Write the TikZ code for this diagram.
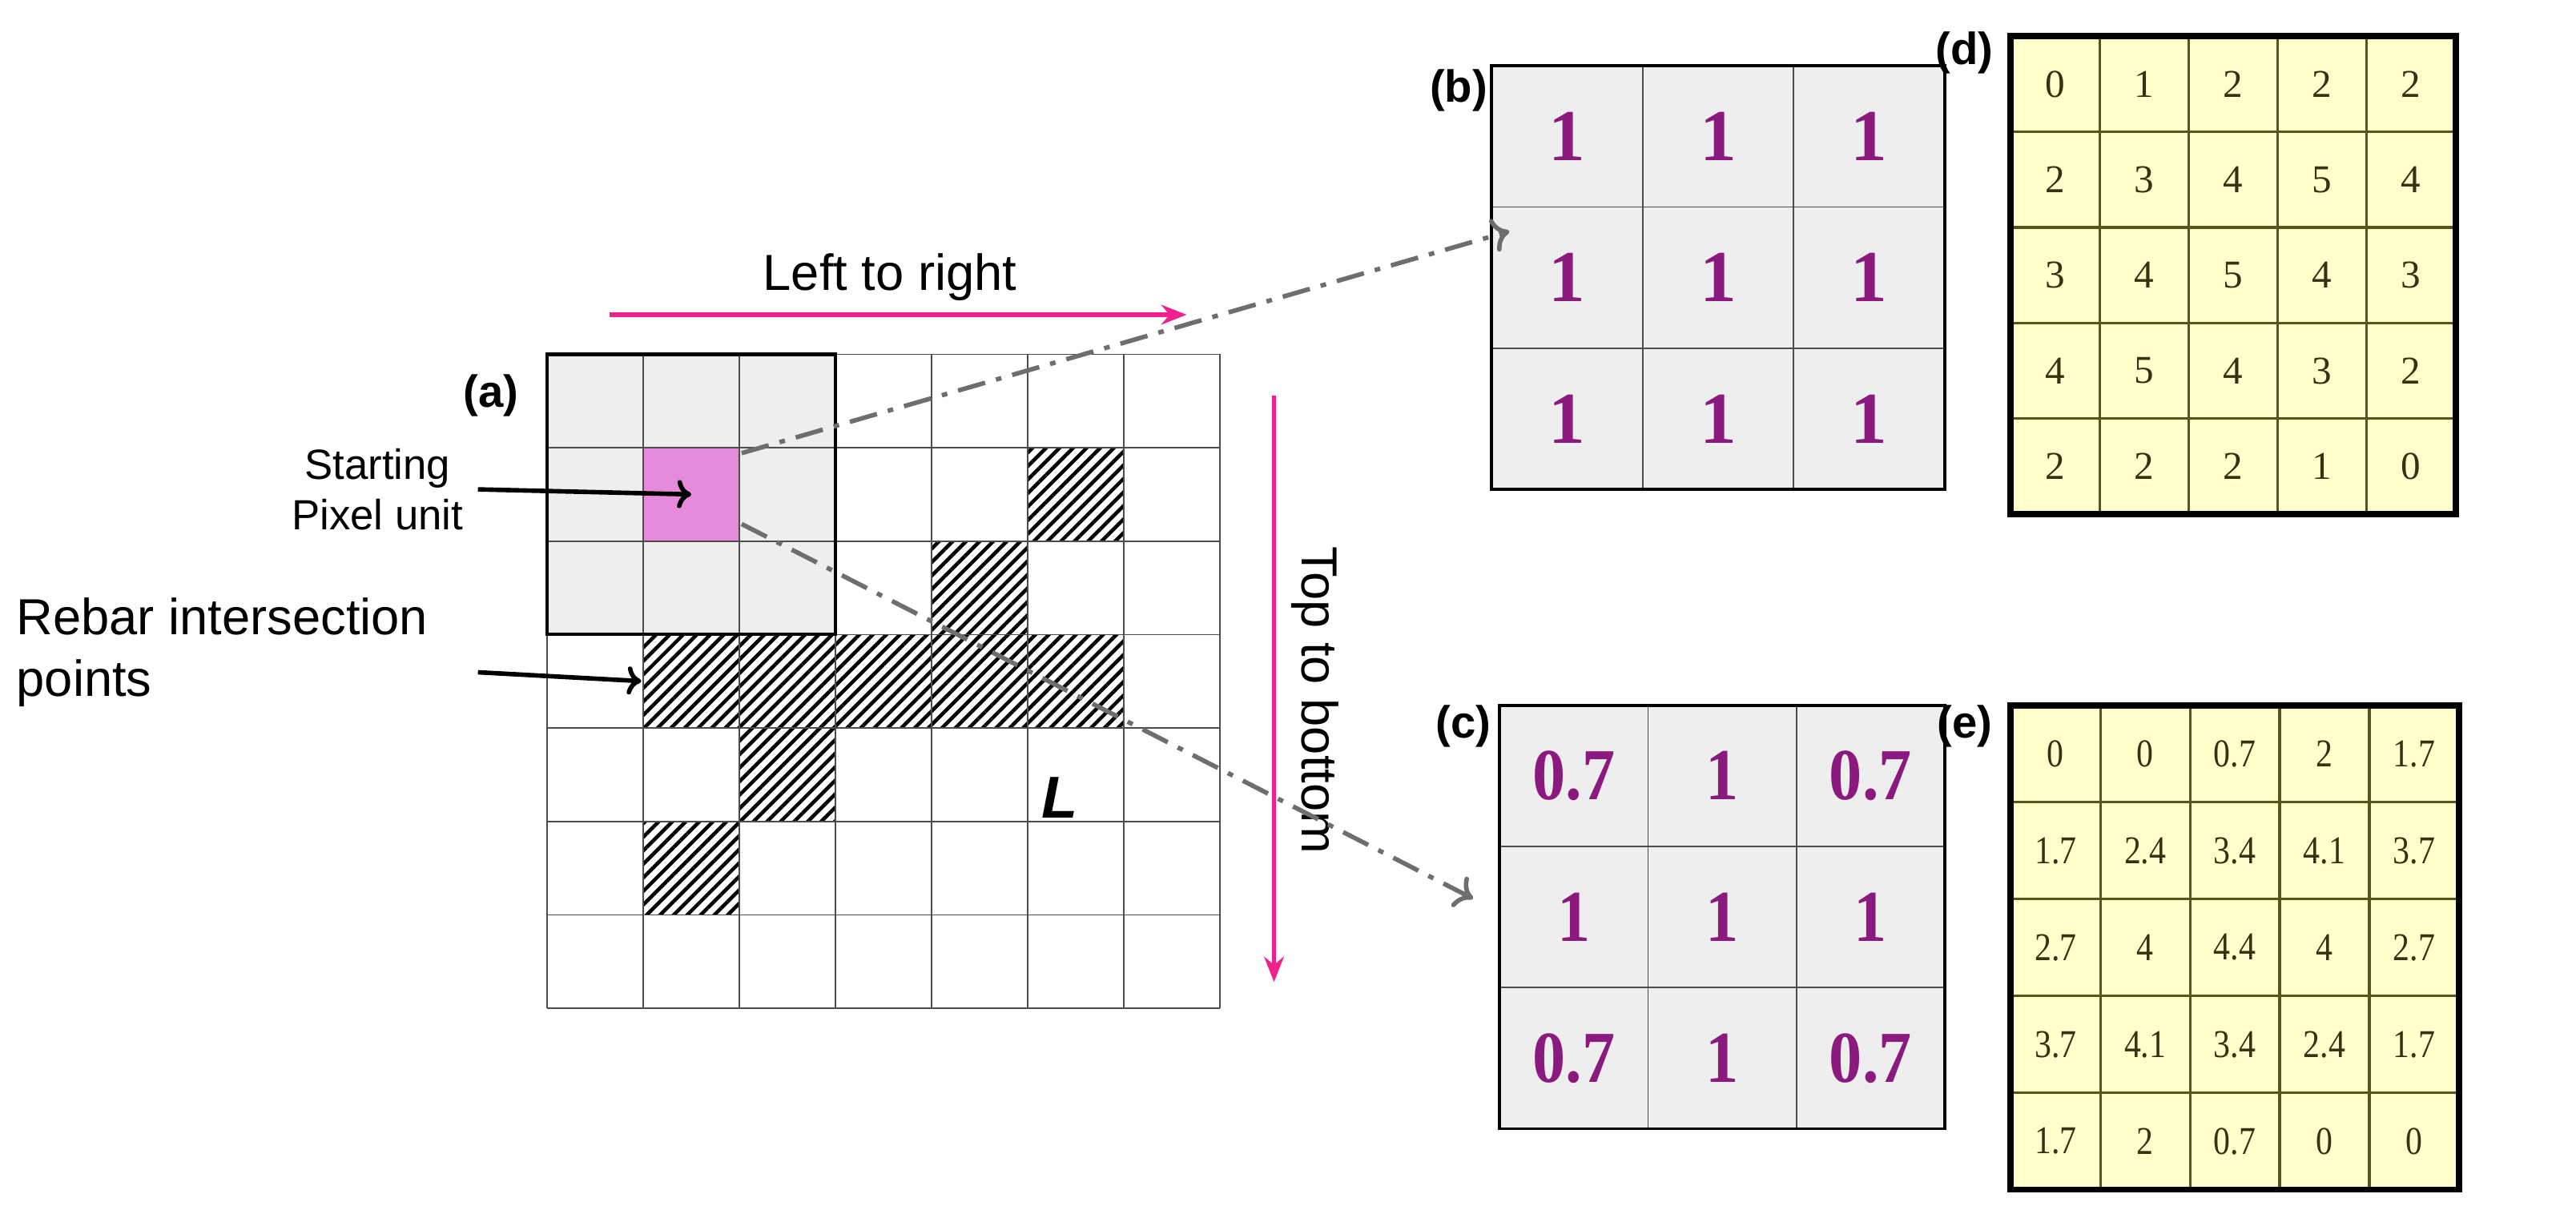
\documentclass[tikz,border=0pt]{standalone}
\usepackage{fontspec}
\setmainfont{Liberation Sans}
\newfontfamily\tnr{Liberation Serif}
\usetikzlibrary{patterns.meta,arrows.meta}
\definecolor{gfill}{HTML}{EEEEEE}
\definecolor{pinkc}{HTML}{E68ADB}
\definecolor{purp}{HTML}{8B1A7E}
\definecolor{yel}{HTML}{FFFFCC}
\definecolor{oliv}{HTML}{55551E}
\definecolor{mag}{HTML}{F0208C}
\definecolor{dgray}{HTML}{6E6E6E}
\tikzset{
  lbl/.style={font=\fontsize{16}{18}\selectfont\bfseries},
  txt/.style={font=\fontsize{15}{18}\selectfont, align=center},
  txtb/.style={font=\fontsize{18}{22}\selectfont, align=left},
  big/.style={font=\tnr\fontsize{26}{28}\selectfont\bfseries, text=purp},
  sm/.style={font=\tnr\fontsize{14}{16}\selectfont, text=oliv!60!black},
  hatch/.style={pattern={Lines[angle=45,distance=3.4pt,line width=1.3pt]}},
  thinl/.style={draw=black!70, line width=0.5pt},
  blkarr/.style={-{To[length=5pt,width=10pt,line width=1.6pt]}, line width=1.6pt},
  dda/.style={dgray, line width=1.6pt, dash pattern=on 10pt off 4pt on 2pt off 4pt, -{To[length=6pt,width=12pt]}},
  marr/.style={mag, line width=1.6pt, -{Stealth[length=9pt,width=7pt]}},
}
\begin{document}
\begin{tikzpicture}[x=0.020576cm,y=-0.020576cm]
\useasboundingbox (0,0) rectangle (1563,734);
\def\cw{58.3}\def\ch{56.7}
% grid (a)
\fill[gfill] (332,215) rectangle (506.9,385.1);
\foreach \c/\r in {5/1,4/2,1/3,2/3,3/3,4/3,5/3,2/4,1/5}
  \fill[hatch] ({332+\cw*\c},{215+\ch*\r}) rectangle +(\cw,\ch);
\fill[pinkc] ({332+\cw},{215+\ch}) rectangle +(\cw,\ch);
\foreach \i in {0,...,7} \draw[thinl] ({332+\cw*\i},215) -- ({332+\cw*\i},{215+7*\ch});
\foreach \j in {0,...,7} \draw[thinl] (332,{215+\ch*\j}) -- ({332+7*\cw},{215+\ch*\j});
\draw[line width=1.2pt] (332,215) rectangle (506.9,385.1);
\node[inner sep=0,minimum size=0pt] (pink) at ({332+1.5*\cw},{215+1.5*\ch}) {};
\node[inner sep=0] (hatchstart) at ({332+\cw},{215+3.5*\ch}) {};
\node[font=\fontsize{21}{21}\selectfont\bfseries\itshape] (L) at (643,484) {L};
\node[lbl] (la) at (298,240) {(a)};
\coordinate (pinkR1) at (450,275);
\coordinate (pinkR2) at (450,318);
% labels left
\node[txt] (start) at (229,297) {Starting\\Pixel unit};
\node[txtb, anchor=west] (rebar) at (4,396) {Rebar intersection\\points};
\draw[blkarr] (290,297) -- (pink.center);
\draw[blkarr] (290,408) -- (hatchstart);
% direction arrows
\node[txtb] (ltr) at (540,168) {Left to right};
\coordinate (m1) at (370,191); \coordinate (m2) at (720,191);
\draw[marr] (m1) -- (m2);
\node[txtb, rotate=-90] (ttb) at (798,425) {Top to bottom};
\coordinate (m3) at (773,240); \coordinate (m4) at (773,596);
\draw[marr] (m3) -- (m4);
% (b)
\node[lbl] (lb) at (885,55) {(b)};
\fill[gfill] (905,40) rectangle (1180,297);
\foreach \i in {1,2} {
  \draw[thinl] ({905+\i*91.67},40) -- ({905+\i*91.67},297);
  \draw[thinl] (905,{40+\i*85.67}) -- (1180,{40+\i*85.67});}
\draw[line width=1.1pt] (905,40) rectangle (1180,297);
\foreach \i in {0,1,2} \foreach \j in {0,1,2}
  \node[big] (b\i\j) at ({905+91.67*(\i+0.5)},{40+85.67*(\j+0.5)}) {1};
% (c)
\node[lbl] (lc) at (888,441) {(c)};
\fill[gfill] (910,428) rectangle (1180,685);
\foreach \i in {1,2} {
  \draw[thinl] ({910+\i*90},428) -- ({910+\i*90},685);
  \draw[thinl] (910,{428+\i*85.67}) -- (1180,{428+\i*85.67});}
\draw[line width=1.1pt] (910,428) rectangle (1180,685);
\foreach \v [count=\k from 0] in {0.7,1,0.7,1,1,1,0.7,1,0.7} {
  \pgfmathtruncatemacro\ii{mod(\k,3)}\pgfmathtruncatemacro\jj{div(\k,3)}
  \node[big, xscale=0.9] (c\k) at ({910+90*(\ii+0.5)},{428+85.67*(\jj+0.5)}) {\v};}
% dash-dot arrows
\node[inner sep=0] (btarget) at (917,140) {};
\node[inner sep=0] (ctarget) at (895,546) {};
\draw[dda] (pinkR1) -- (btarget);
\draw[dda] (pinkR2) -- (ctarget);
% (d)
\node[lbl] (ld) at (1192,32) {(d)};
\fill[yel] (1220,22) rectangle (1490,312);
\foreach \i in {1,...,4} {
  \draw[oliv, line width=0.9pt] ({1220+\i*54},22) -- ({1220+\i*54},312);
  \draw[oliv, line width=0.9pt] (1220,{22+\i*58}) -- (1490,{22+\i*58});}
\draw[line width=2.2pt] (1220,22) rectangle (1490,312);
\foreach \v [count=\k from 0] in {0,1,2,2,2, 2,3,4,5,4, 3,4,5,4,3, 4,5,4,3,2, 2,2,2,1,0} {
  \pgfmathtruncatemacro\ii{mod(\k,5)}\pgfmathtruncatemacro\jj{div(\k,5)}
  \node[sm] (d\k) at ({1220+54*(\ii+0.5)},{22+58*(\jj+0.5)}) {\v};}
% (e)
\node[lbl] (le) at (1192,441) {(e)};
\fill[yel] (1220,428) rectangle (1492,722);
\foreach \i in {1,...,4} {
  \draw[oliv, line width=0.9pt] ({1220+\i*54.4},428) -- ({1220+\i*54.4},722);
  \draw[oliv, line width=0.9pt] (1220,{428+\i*58.8}) -- (1492,{428+\i*58.8});}
\draw[line width=2.2pt] (1220,428) rectangle (1492,722);
\foreach \v [count=\k from 0] in {0,0,0.7,2,1.7, 1.7,2.4,3.4,4.1,3.7, 2.7,4,4.4,4,2.7, 3.7,4.1,3.4,2.4,1.7, 1.7,2,0.7,0,0} {
  \pgfmathtruncatemacro\ii{mod(\k,5)}\pgfmathtruncatemacro\jj{div(\k,5)}
  \node[sm, xscale=0.85] (e\k) at ({1220+54.4*(\ii+0.5)},{428+58.8*(\jj+0.5)}) {\v};}
\end{tikzpicture}
\end{document}
